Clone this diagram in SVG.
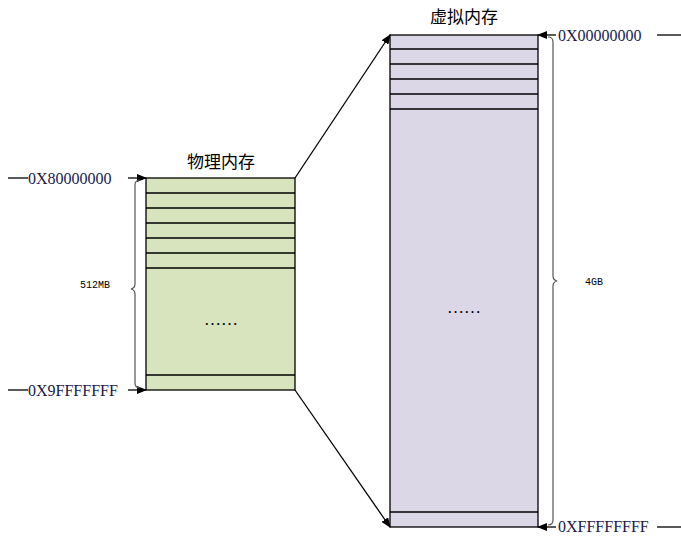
<svg xmlns="http://www.w3.org/2000/svg" width="681" height="542" viewBox="0 0 681 542">
<defs>
<marker id="ah" markerWidth="10" markerHeight="8" refX="9" refY="4" orient="auto" markerUnits="userSpaceOnUse"><path d="M0,0 L10,4 L0,8 Z" fill="#000"/></marker>
<style>
.hex{font-family:"Liberation Serif",serif;font-size:16px;fill:#1a1a4a}
.tt{font-family:"Liberation Serif","Noto Sans CJK SC",serif;font-size:17px;fill:#000}
.sm{font-family:"Liberation Mono",monospace;font-size:10px;fill:#000}
.ln{stroke:#000;stroke-width:1.3;fill:none}
.br{stroke:#555;stroke-width:1.2;fill:none}
</style>
</defs>
<rect width="681" height="542" fill="#fff"/>
<g id="physical">
<rect x="146" y="178" width="149" height="212" fill="#d7e4bd" stroke="#000" stroke-width="1.3"/>
<path class="ln" d="M146,193H295M146,208H295M146,223H295M146,238H295M146,253H295M146,268H295M146,375H295"/>
<text x="221" y="325" text-anchor="middle" class="tt">……</text>
<text x="221" y="168" text-anchor="middle" class="tt">物理内存</text>
</g>
<g id="virtual">
<rect x="390" y="35" width="148" height="492" fill="#dcd7e6" stroke="#000" stroke-width="1.3"/>
<path class="ln" d="M390,49H538M390,64H538M390,79H538M390,94H538M390,109H538M390,512H538"/>
<text x="464" y="313" text-anchor="middle" class="tt">……</text>
<text x="464" y="23" text-anchor="middle" class="tt">虚拟内存</text>
</g>
<g id="labels">
<text x="28" y="184" class="hex">0X80000000</text>
<text x="28" y="396" class="hex">0X9FFFFFFF</text>
<text x="558" y="41" class="hex">0X00000000</text>
<text x="558" y="532" class="hex">0XFFFFFFFF</text>
<text x="80" y="288" class="sm">512MB</text>
<text x="585" y="285" class="sm">4GB</text>
</g>
<g id="connectors">
<path class="ln" d="M8,178H28"/>
<path class="ln" d="M128,178H146" marker-end="url(#ah)"/>
<path class="ln" d="M8,390H28"/>
<path class="ln" d="M128,390H146" marker-end="url(#ah)"/>
<path class="ln" d="M657,35H685"/>
<path class="ln" d="M556,35H538" marker-end="url(#ah)"/>
<path class="ln" d="M657,527H685"/>
<path class="ln" d="M556,527H538" marker-end="url(#ah)"/>
<path class="br" d="M140,180Q135,180 135,185V284Q135,288 131,289Q135,290 135,294V383Q135,388 140,388"/>
<path class="br" d="M548,37Q553,37 553,42V276Q553,280 557,281Q553,282 553,286V520Q553,525 548,525"/>
<path class="ln" d="M295,178L390,35" marker-end="url(#ah)"/>
<path class="ln" d="M295,390L390,527" marker-end="url(#ah)"/>
</g>
</svg>
